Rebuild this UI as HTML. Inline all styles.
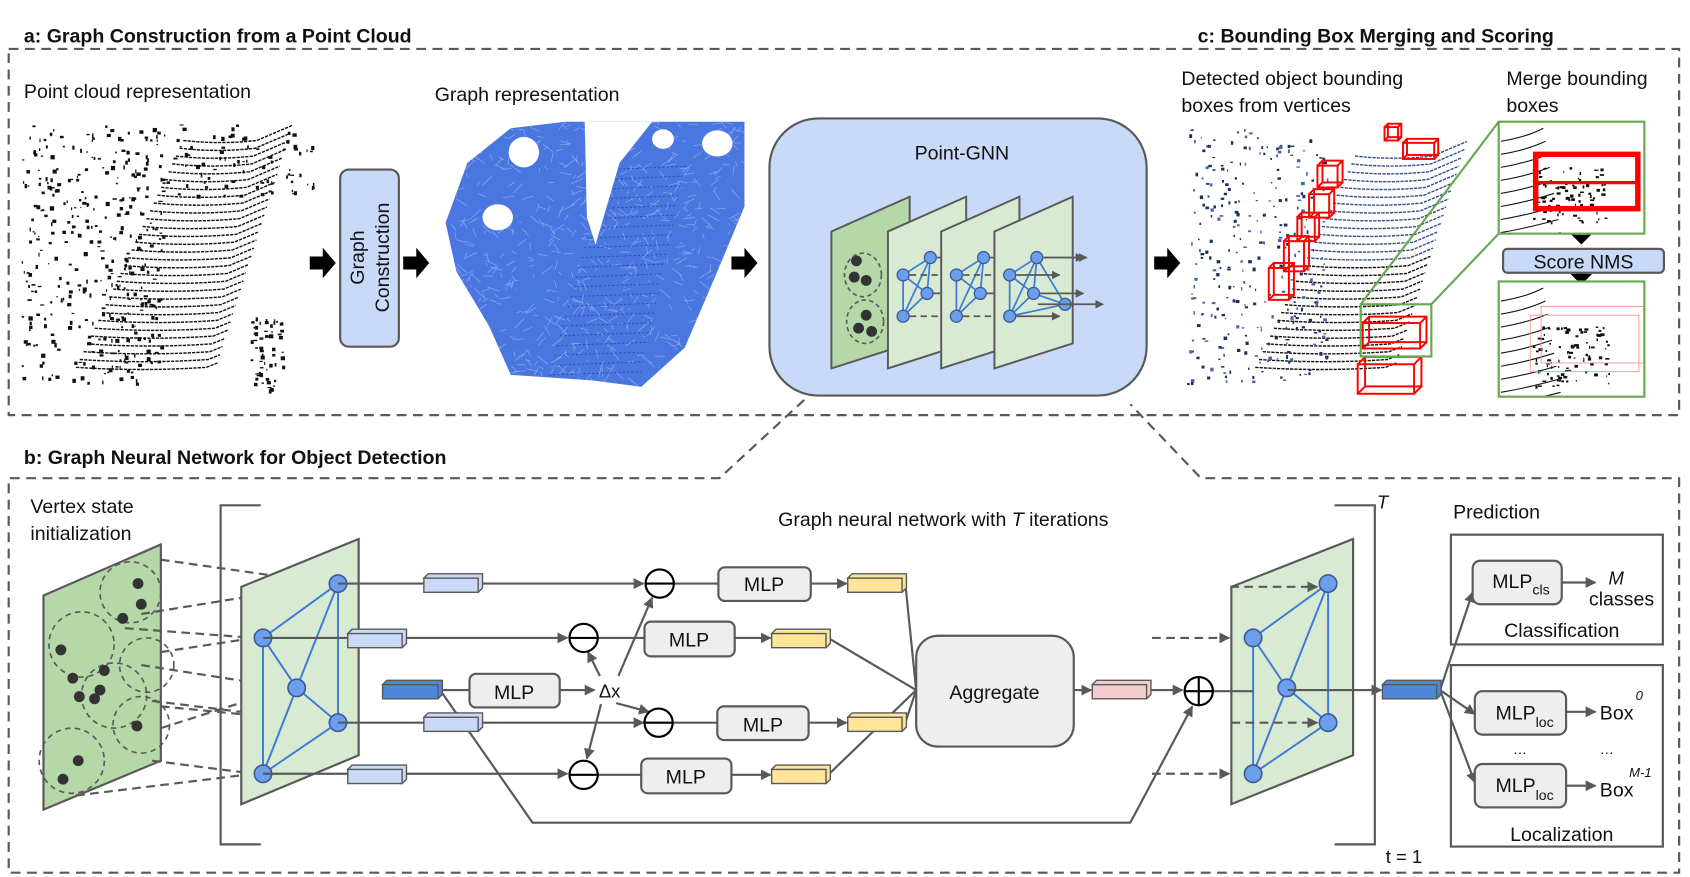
<!DOCTYPE html>
<html><head><meta charset="utf-8"><style>
html,body{margin:0;padding:0;background:#fff;width:1690px;height:877px;overflow:hidden}
svg text{font-family:"Liberation Sans",Arial,sans-serif;fill:#111}
</style></head><body>
<svg id="s" width="1690" height="877" viewBox="0 0 1555 807" preserveAspectRatio="none" xmlns="http://www.w3.org/2000/svg">
<defs>
<marker id="ar" viewBox="0 0 10 10" refX="9" refY="5" markerWidth="5" markerHeight="5" orient="auto-start-reverse"><path d="M0,0L10,5L0,10z" fill="#595959"/></marker>
<clipPath id="c1"><rect x="18" y="108" width="285" height="255"/></clipPath>
<clipPath id="c2"><path d="M410 205 L430 150 L470 118 L520 112 L600 112 L685 112 L685 190 L660 250 L630 320 L590 356 L545 350 L470 345 L450 300 L420 250z"/></clipPath>
<clipPath id="c3"><rect x="1088" y="112" width="285" height="255"/></clipPath>
<clipPath id="ci1"><rect x="1379" y="112" width="134" height="103"/></clipPath>
<clipPath id="ci2"><rect x="1379" y="259" width="134" height="106"/></clipPath>
</defs>
<rect width="1555" height="807" fill="#fff"/>
<text x="22" y="39" font-size="18" font-weight="bold">a: Graph Construction from a Point Cloud</text>
<text x="1102" y="39" font-size="18" font-weight="bold">c: Bounding Box Merging and Scoring</text>
<text x="22" y="427" font-size="18" font-weight="bold">b: Graph Neural Network for Object Detection</text>
<g fill="none" stroke="#595959" stroke-width="2" stroke-dasharray="9 6">
<rect x="8" y="45" width="1537" height="337"/>
<path d="M740 368 L662 440 H8 V803 H1545 V440 H1105 L1040 372"/>
</g>
<g id="pc1" clip-path="url(#c1)"></g>
<g id="gm"></g>
<g id="pc3" clip-path="url(#c3)"></g>
<text x="22" y="90" font-size="18">Point cloud representation</text>
<text x="400" y="93" font-size="18">Graph representation</text>
<text x="1087" y="78" font-size="18">Detected object bounding</text>
<text x="1087" y="103" font-size="18">boxes from vertices</text>
<text x="1386" y="78" font-size="18">Merge bounding</text>
<text x="1386" y="103" font-size="18">boxes</text>
<g fill="#000">
<path d="M285 236h12v-8l12 14-12 14v-8h-12z"/>
<path d="M371 236h12v-8l12 14-12 14v-8h-12z"/>
<path d="M673 236h12v-8l12 14-12 14v-8h-12z"/>
<path d="M1062 236h12v-8l12 14-12 14v-8h-12z"/>
<path d="M1450 216h10v-6h-10zM1445 215h20l-10 10z"/>
<path d="M1450 250h10v6h-10zM1445 252h20l-10 10z"/>
</g>
<rect x="313" y="156" width="54" height="163" rx="8" fill="#c9daf8" stroke="#595959" stroke-width="2"/>
<text transform="translate(335 237) rotate(-90)" font-size="18" text-anchor="middle">Graph</text>
<text transform="translate(358 237) rotate(-90)" font-size="18" text-anchor="middle">Construction</text>
<rect x="708" y="109" width="347" height="255" rx="45" fill="#c9daf8" stroke="#595959" stroke-width="2"/>
<text x="885" y="147" font-size="18" text-anchor="middle">Point-GNN</text>
<path d="M765 213 L837 181 V316 L765 339z" fill="#b6d7a8" stroke="#595959" stroke-width="1.8"/>
<g fill="#333"><circle cx="788" cy="240" r="5"/><circle cx="786" cy="255" r="5"/><circle cx="797" cy="258" r="5"/><circle cx="797" cy="290" r="5"/><circle cx="790" cy="302" r="5"/><circle cx="802" cy="305" r="5"/></g>
<g fill="none" stroke="#595959" stroke-dasharray="4 3" stroke-width="1.5"><ellipse cx="794" cy="253" rx="17" ry="20"/><ellipse cx="796" cy="296" rx="17" ry="20"/></g>
<g id="gnnp"></g>
<g id="insets"></g>
<rect x="1383" y="229" width="148" height="22" rx="4" fill="#c9daf8" stroke="#595959" stroke-width="2"/>
<text x="1457" y="247" font-size="18" text-anchor="middle">Score NMS</text>

<text x="28" y="472" font-size="18">Vertex state</text>
<text x="28" y="497" font-size="18">initialization</text>
<text x="716" y="484" font-size="18">Graph neural network with <tspan font-style="italic">T</tspan> iterations</text>
<text x="1337" y="477" font-size="18">Prediction</text>
<text x="1267" y="468" font-size="17" font-style="italic">T</text>
<text x="1275" y="794" font-size="17">t = 1</text>
<g fill="none" stroke="#595959" stroke-width="2">
<path d="M240 465 H203 V777 H240"/>
<path d="M1228 465 H1265 V777 H1228"/>
</g>
<path d="M40 548 L148 501 V700 L40 745z" fill="#b6d7a8" stroke="#595959" stroke-width="2"/>
<g fill="none" stroke="#595959" stroke-width="1.5" stroke-dasharray="5 4">
<circle cx="120" cy="545" r="28"/><circle cx="75" cy="593" r="30"/><circle cx="105" cy="640" r="30"/><circle cx="135" cy="612" r="25"/><circle cx="130" cy="667" r="26"/><circle cx="66" cy="700" r="30"/>
</g>
<g fill="#333"><circle cx="127" cy="537" r="5"/><circle cx="130" cy="556" r="5"/><circle cx="113" cy="569" r="5"/><circle cx="56" cy="598" r="5"/><circle cx="67" cy="624" r="5"/><circle cx="96" cy="617" r="5"/><circle cx="92" cy="635" r="5"/><circle cx="73" cy="641" r="5"/><circle cx="87" cy="643" r="5"/><circle cx="126" cy="668" r="5"/><circle cx="72" cy="700" r="5"/><circle cx="58" cy="717" r="5"/></g>
<g stroke="#595959" stroke-width="2" stroke-dasharray="8 5">
<line x1="148" y1="515" x2="303" y2="537"/><line x1="130" y1="565" x2="303" y2="537"/>
<line x1="115" y1="578" x2="234" y2="587"/><line x1="148" y1="600" x2="234" y2="587"/>
<line x1="130" y1="612" x2="265" y2="633"/><line x1="148" y1="670" x2="265" y2="633"/>
<line x1="140" y1="645" x2="303" y2="665"/><line x1="148" y1="650" x2="303" y2="665"/>
<line x1="140" y1="700" x2="234" y2="712"/><line x1="70" y1="732" x2="234" y2="712"/>
</g>
<path d="M222 540 L330 496 V695 L222 740z" fill="#d9ead3" stroke="#595959" stroke-width="2"/>
<path d="M1133 540 L1245 496 V695 L1133 740z" fill="#d9ead3" stroke="#595959" stroke-width="2"/>
<g id="nodes"></g>
<g stroke="#595959" stroke-width="2" fill="none" marker-end="url(#ar)">
<line x1="311" y1="537" x2="592" y2="537"/>
<line x1="242" y1="587" x2="522" y2="587"/>
<line x1="311" y1="665" x2="592" y2="665"/>
<line x1="242" y1="712" x2="522" y2="712"/>
<line x1="515" y1="635" x2="547" y2="635"/>
<line x1="569" y1="622" x2="600" y2="550"/>
<line x1="552" y1="622" x2="541" y2="600"/>
<line x1="567" y1="647" x2="597" y2="655"/>
<line x1="553" y1="648" x2="540" y2="698"/>
<line x1="746" y1="537" x2="779" y2="537"/>
<line x1="676" y1="587" x2="709" y2="587"/>
<line x1="744" y1="665" x2="779" y2="665"/>
<line x1="673" y1="713" x2="709" y2="713"/>
<line x1="988" y1="635" x2="1004" y2="635"/>
<line x1="1058" y1="635" x2="1088" y2="635"/>
<path d="M405 635 L490 757 H1040 L1097 650"/>
<line x1="1185" y1="635" x2="1271" y2="635"/>
<line x1="1325" y1="635" x2="1355" y2="545"/>
<line x1="1325" y1="635" x2="1357" y2="657"/>
<line x1="1325" y1="635" x2="1357" y2="720"/>
<line x1="1437" y1="536" x2="1468" y2="536"/>
<line x1="1441" y1="655" x2="1468" y2="655"/>
<line x1="1441" y1="723" x2="1468" y2="723"/>
</g>
<g stroke="#595959" stroke-width="2" fill="none">
<line x1="620" y1="537" x2="661" y2="537"/><line x1="550" y1="587" x2="593" y2="587"/>
<line x1="620" y1="665" x2="660" y2="665"/><line x1="550" y1="713" x2="590" y2="713"/>
<line x1="405" y1="635" x2="432" y2="635"/>
<line x1="833" y1="537" x2="843" y2="635"/><line x1="762" y1="587" x2="843" y2="635"/>
<line x1="833" y1="665" x2="843" y2="635"/><line x1="762" y1="713" x2="843" y2="635"/>
<line x1="1103" y1="636" x2="1153" y2="636"/>
</g>
<g stroke="#595959" stroke-width="2" stroke-dasharray="8 5" fill="none" marker-end="url(#ar)">
<line x1="1060" y1="587" x2="1131" y2="587"/><line x1="1132" y1="540" x2="1212" y2="540"/>
<line x1="1133" y1="665" x2="1212" y2="665"/><line x1="1060" y1="712" x2="1131" y2="712"/>
</g>
<g fill="#fff" stroke="#000" stroke-width="2">
<circle cx="607" cy="537" r="13"/><circle cx="537" cy="587" r="13"/><circle cx="606" cy="665" r="13"/><circle cx="537" cy="713" r="13"/><circle cx="1103" cy="636" r="13"/>
</g>
<g stroke="#000" stroke-width="2"><line x1="594" y1="537" x2="620" y2="537"/><line x1="524" y1="587" x2="550" y2="587"/><line x1="593" y1="665" x2="619" y2="665"/><line x1="524" y1="713" x2="550" y2="713"/><line x1="1090" y1="636" x2="1116" y2="636"/><line x1="1103" y1="623" x2="1103" y2="649"/></g>
<text x="551" y="642" font-size="17">Δx</text>
<g fill="#eeeeee" stroke="#595959" stroke-width="2">
<rect x="661" y="522" width="85" height="31" rx="6"/>
<rect x="593" y="572" width="83" height="32" rx="6"/>
<rect x="432" y="620" width="83" height="31" rx="6"/>
<rect x="660" y="650" width="84" height="31" rx="6"/>
<rect x="590" y="698" width="83" height="32" rx="6"/>
<rect x="843" y="585" width="145" height="102" rx="20"/>
<rect x="1355" y="516" width="82" height="40" rx="7"/>
<rect x="1357" y="636" width="84" height="40" rx="7"/>
<rect x="1357" y="703" width="84" height="40" rx="7"/>
</g>
<g font-size="18" text-anchor="middle">
<text x="703" y="544">MLP</text><text x="634" y="595">MLP</text><text x="473" y="643">MLP</text><text x="702" y="673">MLP</text><text x="631" y="721">MLP</text>
<text x="915" y="643">Aggregate</text>
</g>
<g fill="none" stroke="#595959" stroke-width="2">
<rect x="1335" y="492" width="195" height="101"/>
<rect x="1335" y="612" width="195" height="167"/>
</g>
<text x="1373" y="541" font-size="18">MLP<tspan font-size="13" dy="6">cls</tspan></text>
<text x="1376" y="662" font-size="18">MLP<tspan font-size="13" dy="7">loc</tspan></text>
<text x="1376" y="729" font-size="18">MLP<tspan font-size="13" dy="7">loc</tspan></text>
<text x="1480" y="538" font-size="17" font-style="italic">M</text>
<text x="1462" y="557" font-size="18">classes</text>
<text x="1437" y="586" font-size="18" text-anchor="middle">Classification</text>
<text x="1472" y="662" font-size="18">Box</text><text x="1505" y="644" font-size="12" font-style="italic">0</text>
<text x="1472" y="733" font-size="18">Box</text><text x="1499" y="715" font-size="12" font-style="italic">M-1</text>
<text x="1392" y="694" font-size="13">…</text><text x="1472" y="694" font-size="13">…</text>
<text x="1437" y="774" font-size="18" text-anchor="middle">Localization</text>
<g id="bars"></g>
</svg>
<script>
(function(){
var NS="http://www.w3.org/2000/svg";
function el(p,t,a){var e=document.createElementNS(NS,t);for(var k in a)e.setAttribute(k,a[k]);p.appendChild(e);return e;}
var seed=7;function r(){seed=(seed*16807)%2147483647;return (seed-1)/2147483646;}
function scan(g,ox,n,col1,col2){
 for(var i=0;i<n;i++){var y=340-i*7.2,lx=ox+70+i*3.4-(i<4?0:0),rx=ox+190+i*1.6;
  var ex=rx+10+i*0.8, ey=y-6-i*0.35;
  el(g,'path',{d:"M"+lx+" "+(y-2)+" Q"+((lx+rx)/2)+" "+(y+2)+" "+rx+" "+(y-2)+" L"+ex+" "+ey,fill:'none',stroke:i<n/2?col1:col2,'stroke-width':1.3,'stroke-dasharray':'3 1'});}
}
var g=document.getElementById('pc1');
scan(g,0,30,'#111','#111');
for(var i=0;i<380;i++){var x=20+r()*130,y=115+r()*240;
 el(g,'rect',{x:x,y:y,width:1+r()*3,height:1+r()*3,fill:'#111'});}
for(var i=0;i<80;i++){el(g,'rect',{x:150+r()*140,y:112+r()*70,width:1+r()*3,height:1+r()*3,fill:'#111'});}
for(var i=0;i<60;i++){el(g,'rect',{x:230+r()*30,y:290+r()*70,width:1+r()*3,height:1+r()*3,fill:'#111'});}
var m=document.getElementById('gm');
el(m,'path',{d:"M410 205 L430 150 L470 118 L520 112 L600 112 L685 112 L685 190 L660 250 L630 320 L590 356 L545 350 L470 345 L450 300 L420 250z",fill:'#4a76e0'});
var mc=el(m,'g',{'clip-path':'url(#c2)'});
for(var i=0;i<700;i++){var x1=410+r()*275,y1=112+r()*240;el(mc,'line',{x1:x1,y1:y1,x2:x1+(r()-0.5)*22,y2:y1+(r()-0.5)*18,stroke:'#8fabee','stroke-width':0.6});}
for(var i=0;i<22;i++){var y=345-i*9;el(mc,'line',{x1:505+i*2.5,y1:y,x2:590+i*2,y2:y-3,stroke:'#2a4fb0','stroke-width':0.9,'stroke-dasharray':'2 2'});}
el(m,'path',{d:"M538 112 L600 112 L570 150 L548 225 L540 200z",fill:'#fff'});
el(m,'ellipse',{cx:458,cy:200,rx:14,ry:12,fill:'#fff'});el(m,'ellipse',{cx:482,cy:140,rx:14,ry:14,fill:'#fff'});
el(m,'ellipse',{cx:660,cy:132,rx:14,ry:12,fill:'#fff'});el(m,'ellipse',{cx:610,cy:128,rx:10,ry:9,fill:'#fff'});
var p=document.getElementById('pc3');
scan(p,1085,28,'#111','#35508a');
for(var i=0;i<300;i++){var x=1092+r()*130,y=118+r()*235;el(p,'rect',{x:x,y:y,width:1+r()*2.5,height:1+r()*2.5,fill:r()<0.6?'#1c2e5a':'#4a64a8'});}
function cube(x,y,w,h,o,sw){el(p,'rect',{x:x,y:y+o,width:w-o,height:h-o,fill:'none',stroke:'#f00','stroke-width':sw});el(p,'rect',{x:x+o,y:y,width:w-o,height:h-o,fill:'none',stroke:'#f00','stroke-width':sw});
 el(p,'path',{d:"M"+x+" "+(y+o)+"l"+o+" "+(-o)+"M"+(x+w-o)+" "+(y+o)+"l"+o+" "+(-o)+"M"+x+" "+(y+h)+"l"+o+" "+(-o)+"M"+(x+w-o)+" "+(y+h)+"l"+o+" "+(-o),stroke:'#f00','stroke-width':sw});}
var C=function(a,b,c,d){return [(1170+a/2.98)/1.087,(60+b/2.98)/1.087,(c-a)/2.98/1.087,(d-b)/2.98/1.087];};
[[640,190,690,240],[695,235,800,295],[440,300,515,380],[415,385,490,470],[380,455,445,540],[340,525,415,630],[295,605,370,715],[575,765,765,860],[560,885,750,995]].forEach(function(b){var c=C(b[0],b[1],b[2],b[3]);cube(c[0],c[1],c[2],c[3],Math.min(c[2],c[3])*0.2,1.8);});
var s=document.getElementById('insets');
el(s,'line',{x1:1379,y1:112,x2:1252,y2:280,stroke:'#6aa84f','stroke-width':2});
el(s,'line',{x1:1379,y1:215,x2:1317,y2:280,stroke:'#6aa84f','stroke-width':2});
el(s,'rect',{x:1252,y:280,width:65,height:48,fill:'none',stroke:'#6aa84f','stroke-width':2});
[[112,215,'ci1'],[259,365,'ci2']].forEach(function(b,k){var y0=b[0],y1=b[1];el(s,'rect',{x:1379,y:y0,width:134,height:y1-y0,fill:'#fff'});
 var gg=el(s,'g',{'clip-path':'url(#'+b[2]+')'});
 for(var i=0;i<9;i++){var y=y0+8+i*12;el(gg,'path',{d:"M1381 "+(y+10)+" Q1405 "+(y+6)+" "+(1420+i*2)+" "+(y-2),fill:'none',stroke:'#111','stroke-width':1});}
 for(var i=0;i<90;i++)el(gg,'rect',{x:1410+r()*70,y:y0+40+r()*(y1-y0-50),width:1+r()*3,height:1+r()*2,fill:'#111'});
 if(k==0){el(gg,'rect',{x:1413,y:142,width:94,height:50,fill:'none',stroke:'#f00','stroke-width':5});el(gg,'line',{x1:1413,y1:168,x2:1507,y2:168,stroke:'#f00','stroke-width':3});}
 else{el(gg,'rect',{x:1408,y:290,width:100,height:52,fill:'none',stroke:'#f09090','stroke-width':0.8});el(gg,'rect',{x:1418,y:282,width:100,height:52,fill:'none',stroke:'#f09090','stroke-width':0.8});}
 el(s,'rect',{x:1379,y:y0,width:134,height:y1-y0,fill:'none',stroke:'#6aa84f','stroke-width':2});
});
var gp=document.getElementById('gnnp');
[0,1,2].forEach(function(k){var dx=[0,49,98][k];
 el(gp,'path',{d:"M"+(817+dx)+" 213 L"+(889+dx)+" 181 V316 L"+(817+dx)+" 339z",fill:'#d9ead3',stroke:'#595959','stroke-width':1.8});
 var n=[[831,253],[856,237],[853,270],[831,291]];if(k==2)n.push([882,280]);
 n=n.map(function(q){return [q[0]+dx,q[1]]});
 var E=[[0,1],[0,3],[1,2],[0,2],[2,3],[3,1]];if(k==2)E.push([2,4],[1,4],[3,4]);
 E.forEach(function(e){el(gp,'line',{x1:n[e[0]][0],y1:n[e[0]][1],x2:n[e[1]][0],y2:n[e[1]][1],stroke:'#3d7bd6','stroke-width':1.6});});
 [253,237,270,291].forEach(function(y,j){var xs=n[j][0]+6;el(gp,'line',{x1:xs,y1:y,x2:xs+40,y2:y,stroke:'#595959','stroke-width':1.6,'stroke-dasharray':k==2?'':'6 4','marker-end':k==2?'url(#ar)':''});});
 n.forEach(function(q){el(gp,'circle',{cx:q[0],cy:q[1],r:5.5,fill:'#6d9eeb',stroke:'#3c5a9a','stroke-width':1.2});});
});
el(gp,'line',{x1:955,y1:280,x2:1015,y2:280,stroke:'#595959','stroke-width':1.6,'marker-end':'url(#ar)'});
el(gp,'line',{x1:960,y1:237,x2:997,y2:237,stroke:'#595959','stroke-width':1.6,'marker-end':'url(#ar)'});
var nd=document.getElementById('nodes');
function graph(dx){var n=[[311,537],[242,587],[273,633],[311,665],[242,712]].map(function(q){return[q[0]+dx,q[1]]});
 [[0,1],[0,2],[0,3],[1,2],[1,4],[2,3],[2,4],[3,4]].forEach(function(e){el(nd,'line',{x1:n[e[0]][0],y1:n[e[0]][1],x2:n[e[1]][0],y2:n[e[1]][1],stroke:'#3d7bd6','stroke-width':1.8});});
 n.forEach(function(q){el(nd,'circle',{cx:q[0],cy:q[1],r:8,fill:'#6d9eeb',stroke:'#3c5a9a','stroke-width':1.5});});}
graph(0);graph(911);
var br=document.getElementById('bars');
function bar(x,y,w,fill){el(br,'path',{d:"M"+x+" "+(y-6)+" l4 -4 h"+w+" v13 l-4 4 z",fill:fill,stroke:'#595959','stroke-width':1.3});
 el(br,'rect',{x:x,y:y-6,width:w,height:13,fill:fill,stroke:'#595959','stroke-width':1.3});}
bar(390,538,50,'#c9daf8');bar(320,589,50,'#c9daf8');bar(352,636,51,'#4f86d9');bar(390,666,50,'#c9daf8');bar(320,714,50,'#c9daf8');
bar(780,538,50,'#ffe599');bar(710,589,50,'#ffe599');bar(780,666,50,'#ffe599');bar(710,714,50,'#ffe599');
bar(1005,636,50,'#f4cccc');bar(1272,636,50,'#4f86d9');
})();
</script>
</body></html>
